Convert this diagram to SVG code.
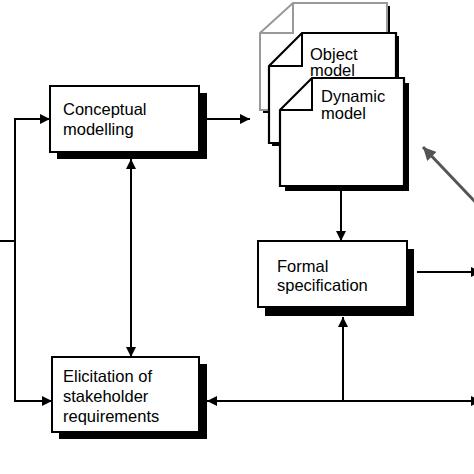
<svg xmlns="http://www.w3.org/2000/svg" width="474" height="474" viewBox="0 0 474 474">
<defs>
<style>
text{font-family:"Liberation Sans",Arial,sans-serif;font-size:16.5px;fill:#000}
.box{fill:#fff;stroke:#000;stroke-width:2}
.shadow{fill:#000}
.doc{fill:#fff;stroke:#000;stroke-width:2.2;stroke-linejoin:miter}
.fold{fill:none;stroke:#000;stroke-width:2}
.conn{fill:none;stroke:#000;stroke-width:2}
</style>
<marker id="ah" viewBox="0 0 10 10" refX="10" refY="5" markerWidth="10" markerHeight="10" markerUnits="userSpaceOnUse" orient="auto-start-reverse">
<path d="M0,0 L10,5 L0,10 z" fill="#000"/>
</marker>
<marker id="ahg" viewBox="0 0 12 12" refX="12" refY="6" markerWidth="13" markerHeight="13" markerUnits="userSpaceOnUse" orient="auto-start-reverse">
<path d="M0,0 L12,6 L0,12 z" fill="#555"/>
</marker>
</defs>
<rect width="474" height="474" fill="#fff"/>

<g id="connectors">
<path class="conn" d="M0,241 H15"/>
<path class="conn" d="M50,119 H15 V401 H52" marker-start="url(#ah)" marker-end="url(#ah)"/>
<path class="conn" d="M207,119 H250" marker-end="url(#ah)"/>
<path class="conn" d="M131,159 V357" marker-start="url(#ah)" marker-end="url(#ah)"/>
<path class="conn" d="M341,190 V241" marker-end="url(#ah)"/>
<path class="conn" d="M417,272 H481" marker-end="url(#ah)"/>
<path class="conn" d="M481,401 H207" marker-start="url(#ah)" marker-end="url(#ah)"/>
<path class="conn" d="M343,401 V317" marker-end="url(#ah)"/>
<path d="M481,208 L423,147" fill="none" stroke="#555" stroke-width="3" marker-end="url(#ahg)"/>
</g>

<g id="conceptual-modelling">
<rect class="shadow" x="57" y="93" width="150" height="66"/>
<rect class="box" x="50" y="86" width="149" height="66"/>
<text x="63" y="115">Conceptual</text>
<text x="63" y="135">modelling</text>
</g>

<g id="elicitation">
<rect class="shadow" x="59" y="364" width="148" height="75"/>
<rect class="box" x="52" y="357" width="147" height="75"/>
<text x="63" y="382">Elicitation of</text>
<text x="63" y="402">stakeholder</text>
<text x="63" y="422">requirements</text>
</g>

<g id="formal-specification">
<rect class="shadow" x="265" y="249" width="149" height="67"/>
<rect class="box" x="258" y="241" width="149" height="66"/>
<text x="277" y="272">Formal</text>
<text x="277" y="291">specification</text>
</g>

<g id="model-documents">
<g id="background-doc">
<polygon class="shadow" points="263,36 296,6 390,6 390,113 263,113"/>
<polygon points="260,33 293,3 387,3 387,110 260,110" fill="#fff" stroke="#999" stroke-width="2"/>
<polyline points="293,3 293,33 260,33" fill="none" stroke="#999" stroke-width="2"/>
</g>
<g id="object-model">
<polygon class="shadow" points="272,69 305,36 399,36 399,146 272,146"/>
<polygon class="doc" points="269,66 302,33 396,33 396,143 269,143"/>
<polyline class="fold" points="302,33 302,66 269,66"/>
<text x="310" y="60">Object</text>
<text x="310" y="76">model</text>
</g>
<g id="dynamic-model">
<polygon class="shadow" points="285,115 317,83 409,83 409,191 285,191"/>
<polygon class="doc" points="280,110 312,78 404,78 404,186 280,186"/>
<polyline class="fold" points="312,78 312,110 280,110"/>
<text x="321" y="102">Dynamic</text>
<text x="321" y="119">model</text>
</g>
</g>
</svg>
